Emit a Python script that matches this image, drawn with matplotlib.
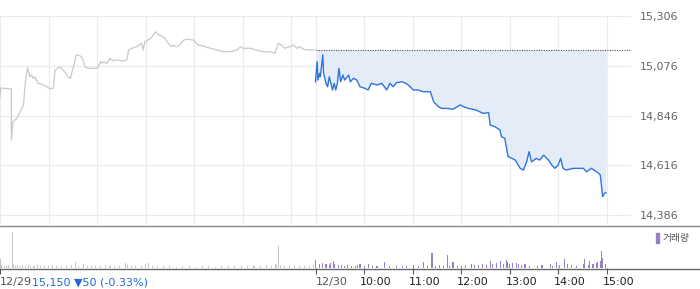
import matplotlib.pyplot as plt
from matplotlib.patches import Patch
from matplotlib.lines import Line2D
import matplotlib.transforms as mtransforms

# 분 단위: 12/29 09:00 = 0, 12/30 09:00 = 390
prev_close = 15150
y_ticks = [14386, 14616, 14846, 15076, 15306]

# 12/29 (전일)
d1_min = [0, 1, 14, 14, 16, 21, 25, 29, 31, 34, 37, 39, 41, 43, 47, 52, 58, 62, 66, 68,
          74, 76, 80, 84, 87, 89, 91, 94, 99, 102, 105, 109, 120, 122, 124, 126, 128, 132,
          136, 140, 144, 152, 157, 159, 163, 169, 175, 177, 179, 183, 188, 192, 196, 198,
          204, 208, 212, 214, 218, 222, 227, 231, 239, 245, 251, 260, 268, 276, 284, 293,
          297, 301, 309, 317, 325, 334, 340, 344, 348, 352, 358, 363, 367, 371, 375, 383, 389]
d1_price = [14931, 14973, 14969, 14733, 14817, 14833, 14864, 14895, 14987, 15067, 15025,
            15033, 15018, 15025, 14995, 14990, 14979, 14969, 14972, 15056, 15072, 15064,
            15048, 15025, 15018, 15048, 15072, 15126, 15122, 15110, 15072, 15064, 15064,
            15072, 15095, 15087, 15095, 15087, 15110, 15098, 15103, 15098, 15103, 15149,
            15157, 15164, 15180, 15149, 15187, 15195, 15210, 15233, 15218, 15218, 15203,
            15180, 15164, 15172, 15164, 15172, 15195, 15198, 15195, 15172, 15167, 15157,
            15149, 15141, 15141, 15149, 15164, 15157, 15157, 15149, 15141, 15141, 15134,
            15180, 15172, 15157, 15164, 15172, 15157, 15164, 15152, 15149, 15150]

# 12/30 (당일), 09:00부터 분
d2_min = [0, 2, 3, 5, 6, 9, 10, 13, 15, 17, 19, 21, 23, 25, 27, 29, 31, 34, 36, 41, 43,
          47, 51, 55, 61, 65, 69, 76, 82, 88, 92, 96, 100, 107, 113, 117, 121, 127, 133,
          142, 146, 152, 156, 162, 170, 179, 183, 189, 199, 207, 214, 216, 222, 228, 230,
          234, 238, 243, 247, 253, 257, 261, 264, 267, 273, 277, 282, 288, 292, 296, 300,
          303, 306, 310, 319, 331, 335, 341, 350, 352, 355, 357, 359]
d2_price = [15002, 15095, 15010, 15041, 15025, 15126, 15041, 14995, 14979, 15025, 14995,
            14964, 14995, 14964, 14995, 15064, 15002, 15033, 15010, 15033, 15002, 15018,
            15010, 14979, 14972, 14964, 14995, 14987, 14995, 14964, 14995, 14979, 14998,
            15002, 14992, 14979, 14964, 14964, 14956, 14956, 14910, 14887, 14879, 14879,
            14875, 14895, 14887, 14879, 14871, 14856, 14859, 14802, 14794, 14779, 14748,
            14741, 14656, 14648, 14640, 14602, 14594, 14632, 14679, 14632, 14648, 14640,
            14663, 14640, 14617, 14602, 14617, 14648, 14602, 14594, 14602, 14602, 14586,
            14602, 14579, 14571, 14471, 14486, 14489]

# 거래량
d1_vol_min = [0, 2, 5, 8, 11, 15, 17, 19, 22, 25, 28, 31, 35, 38, 42, 46, 50, 55, 60, 65,
              70, 76, 82, 88, 93, 97, 103, 108, 113, 118, 124, 130, 136, 142, 148, 155, 158,
              162, 168, 175, 180, 184, 188, 195, 202, 210, 218, 226, 234, 242, 250, 258, 266,
              274, 282, 290, 298, 306, 314, 322, 330, 336, 340, 342, 344, 347, 352, 358, 364,
              370, 376, 382, 388]
d1_vol = [9, 3, 2, 2, 3, 36, 3, 2, 3, 2, 3, 2, 3, 2, 2, 3, 2, 2, 2, 3, 2, 2, 2, 3, 5.7, 2,
          4, 2, 2, 2, 2, 3, 2, 2, 2, 5.5, 3, 2, 2, 2, 3, 5.5, 2, 2, 2, 2, 1.5, 2, 2, 1.5, 2,
          2, 1.5, 2, 2, 2, 2, 2, 2, 2, 3, 2, 4, 3, 22, 3, 2, 2, 2, 2, 2, 2, 3]

d2_vol_min = [0, 5, 9, 13, 17, 18, 22, 24, 28, 32, 36, 40, 45, 49, 52, 55, 60, 65, 70, 76,
              85, 92, 100, 107, 113, 121, 127, 133, 138, 144, 148, 153, 158, 163, 166, 170,
              175, 181, 186, 193, 197, 201, 207, 211, 216, 219, 224, 229, 232, 236, 237, 240,
              243, 248, 251, 255, 259, 265, 274, 280, 290, 293, 298, 302, 308, 312, 317, 323,
              331, 333, 337, 339, 343, 347, 349, 352, 354, 355, 358]
d2_vol = [8, 4, 5, 4, 3, 5, 7, 4, 3, 3, 2, 3, 2, 2, 3, 4, 2, 4, 2, 2, 6, 2, 2, 2, 2, 3, 2,
          6, 2, 15, 2, 3, 2, 13, 2, 6, 2, 2, 3, 4, 3, 3, 4, 3, 7, 4, 5, 7, 4, 8, 6, 4, 5, 5,
          4, 3, 4, 2, 2, 3, 4, 2, 6, 3, 9, 4, 3, 2, 4, 9, 3, 7, 4, 5, 6, 7, 17, 10, 4]

x_ticks = [0, 390, 450, 510, 570, 630, 690, 750]
x_labels = ['12/29', '12/30', '10:00', '11:00', '12:00', '13:00', '14:00', '15:00']

day2 = [m + 390 for m in d2_min]
day2_vol = [m + 390 for m in d2_vol_min]

W, H = 700, 289
fig = plt.figure(figsize=(W / 100, H / 100), dpi=100)
plot_w = 631 / W

ax = fig.add_axes([0, 1 - 225 / H, plot_w, (225 - 16) / H])
vax = fig.add_axes([0, 1 - 268 / H, plot_w, 43 / H])

grid_x = [0, 60, 120, 180, 240, 300, 360, 390, 450, 510, 570, 630, 690, 750]
ax.set_xlim(0, 780)
ax.set_ylim(14340, 15306)
ax.set_xticks(grid_x)
ax.set_yticks(y_ticks)
ax.set_yticklabels([f'{v:,}' for v in y_ticks])
ax.grid(True, color='#ebebeb', lw=0.8)
ax.set_axisbelow(True)
ax.yaxis.tick_right()
ax.tick_params(axis='y', length=0, pad=6, labelsize=8, labelcolor='#666666')
ax.tick_params(axis='x', length=0, labelbottom=False)
for s in ax.spines.values():
    s.set_visible(False)

ax.fill_between(day2, d2_price, prev_close, color='#e4ecf8', lw=0, zorder=1)
ax.plot(d1_min, d1_price, color='#c8c9cf', lw=0.9, zorder=2)
ax.plot(day2, d2_price, color='#2f74dc', lw=1.0, zorder=3)
ax.plot([390, 780], [prev_close, prev_close], color='#555555', lw=0.8,
        linestyle=(0, (1, 1.2)), zorder=3)

vax.set_xlim(0, 780)
vax.set_ylim(0, 43)
vax.bar(d1_vol_min, d1_vol, width=1.3, color='#c4c4c4', lw=0, align='center')
vax.bar(day2_vol, d2_vol, width=1.3, color='#9680c8', lw=0, align='center')
vax.set_yticks([])
vax.set_xticks(x_ticks)
vax.set_xticklabels([])
vax.tick_params(axis='x', direction='out', length=4, width=0.8, color='#555555')
for s in vax.spines.values():
    s.set_visible(False)

# 구분선
fig.add_artist(Line2D([0, 1], [1 - 225.5 / H] * 2, color='#888888', lw=1.0))
fig.add_artist(Line2D([0, 1], [1 - 268.5 / H] * 2, color='#666666', lw=1.0))

# 시간 라벨
trans = mtransforms.blended_transform_factory(vax.transData, vax.transAxes)
shift = mtransforms.ScaledTranslation(-4 / 100, 0, fig.dpi_scale_trans)
first = None
for pos, lab in zip(x_ticks, x_labels):
    if ':' in lab:
        t = vax.text(pos, -0.33, lab, transform=trans + shift, ha='left', va='center',
                     fontsize=8, color='#222222')
    else:
        t = vax.text(pos, -0.33, lab, transform=trans, ha='left', va='center',
                     fontsize=8, color='#555555')
    if first is None:
        first = t
vax.annotate('15,150 ▼50 (-0.33%)', xy=(1, 0.5), xycoords=first, ha='left', va='center',
             fontsize=8, color='#2467d6')

leg = vax.legend(handles=[Patch(color='#9680c8', label='거래량')], loc='center left',
                 bbox_to_anchor=(651 / 631, 0.69), frameon=False, borderpad=0,
                 handlelength=0.35, handleheight=1.1, handletextpad=0.3,
                 prop={'family': ['Noto Sans CJK KR', 'DejaVu Sans'], 'size': 7})
for txt in leg.get_texts():
    txt.set_color('#555555')

fig.savefig('out.png', dpi=100)
